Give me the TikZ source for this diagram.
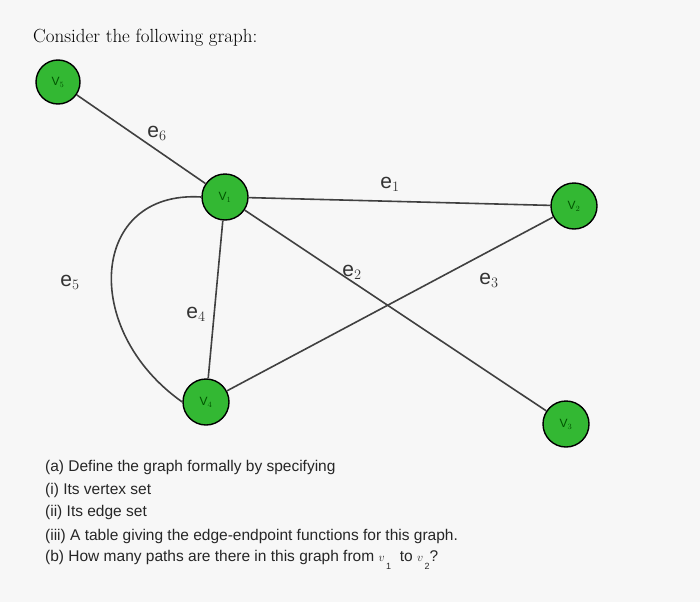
\documentclass[tikz,border=0pt]{standalone}
\usepackage{fontspec}
\setsansfont{Liberation Sans}
\begin{document}
\begin{tikzpicture}[x=1pt,y=-1pt,
  vtx/.style={circle,draw=black,line width=1.4pt,fill=green!65!black!80,minimum size=46pt,inner sep=0pt,font=\sffamily\fontsize{12}{12}\selectfont\color{black!45!green!60!black}},
  edge/.style={draw=black!75,line width=1.6pt},
  elab/.style={font=\sffamily\fontsize{21}{21}\selectfont\color{black!80}},
  txt/.style={anchor=west,font=\sffamily\fontsize{15.5}{17}\selectfont\color{black!85},inner sep=0pt}]
\fill[black!3] (0,0) rectangle (700,602);
\useasboundingbox (0,0) rectangle (700,602);
\node[anchor=west,inner sep=0pt,font=\fontsize{19}{19}\selectfont] (title) at (33,38) {Consider the following graph:};
\node[vtx,minimum size=44pt] (v5) at (58,82) {V$_5$};
\node[vtx] (v1) at (225,197) {V$_1$};
\node[vtx] (v2) at (574,206) {V$_2$};
\node[vtx] (v4) at (206,402) {V$_4$};
\node[vtx] (v3) at (566,424) {V$_3$};
\draw[edge] (v5) -- (v1);
\draw[edge] (v1) -- (v2);
\draw[edge] (v1) -- (v3);
\draw[edge] (v4) -- (v2);
\draw[edge] (v1) -- (v4);
\draw[edge] (v1.west) .. controls (90,190) and (80,330) .. (v4.west);
\node[elab] (e6) at (157,133) {e$_6$};
\node[elab] (e1) at (390,184) {e$_1$};
\node[elab] (e2) at (352,272) {e$_2$};
\node[elab] (e3) at (489,280) {e$_3$};
\node[elab] (e5) at (70,282) {e$_5$};
\node[elab] (e4) at (196,314) {e$_4$};
\node[txt] (ta) at (45,467) {(a) Define the graph formally by specifying};
\node[txt] (ti) at (45,490) {(i) Its vertex set};
\node[txt] (tii) at (45,512) {(ii) Its edge set};
\node[txt] (tiii) at (45,536) {(iii) A table giving the edge-endpoint functions for this graph.};
\node[txt] (tb) at (45,560) {(b) How many paths are there in this graph from {\fontsize{12}{12}\selectfont$v$\raisebox{-8pt}{\fontsize{9}{9}\selectfont\,1}}\ \ to {\fontsize{12}{12}\selectfont$v$\raisebox{-8pt}{\fontsize{9}{9}\selectfont\,2}}?};
\end{tikzpicture}
\end{document}
